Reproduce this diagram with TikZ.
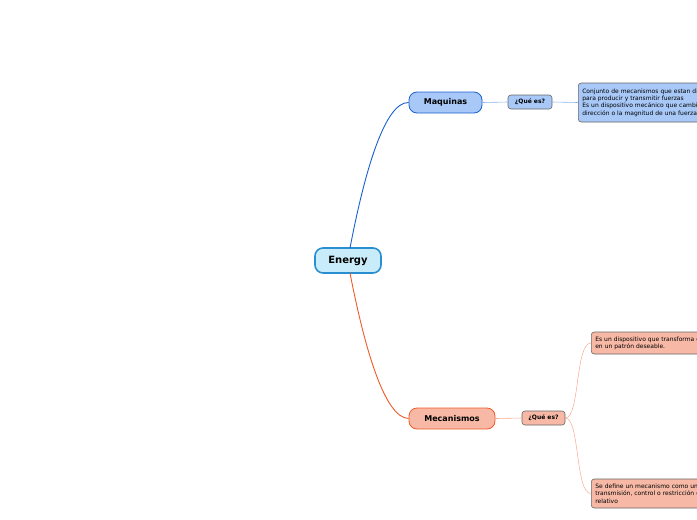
\documentclass[tikz,border=0pt]{standalone}
\usepackage{fontspec}
\setmainfont{DejaVu Sans}
\begin{document}
\begin{tikzpicture}[x=1pt,y=-1pt,
 base/.style={rounded corners=3pt,inner sep=0pt,align=left},
 root/.style={base,rounded corners=8pt,draw=rootb,fill=rootf,line width=1.6pt,minimum width=66pt,minimum height=25pt,font=\fontsize{10}{12}\selectfont\bfseries},
 main/.style={base,rounded corners=8pt,line width=0.8pt,minimum height=21pt,font=\fontsize{8}{10}\selectfont\bfseries},
 q/.style={base,draw=gray!80!black,line width=0.6pt,minimum height=14pt,font=\fontsize{6}{7}\selectfont\bfseries},
 desc/.style={base,draw=gray!80!black,line width=0.6pt,anchor=west,inner xsep=4pt,inner ysep=3pt,text width=150pt,font=\fontsize{6}{7.3}\selectfont}]
\definecolor{rootb}{HTML}{2A8FD0}\definecolor{rootf}{HTML}{C9ECFB}
\definecolor{blueb}{HTML}{1A5FD0}\definecolor{bluef}{HTML}{A8C8F8}
\definecolor{redb}{HTML}{F05A28}\definecolor{redf}{HTML}{F7B9A6}
\definecolor{lblue}{HTML}{8AB4F0}\definecolor{lred}{HTML}{F8A890}
\useasboundingbox (0,0) rectangle (697,520);
\clip (0,0) rectangle (697,520);
\node[root] (e) at (348,260.5) {Energy};
\node[main,draw=blueb,fill=bluef,minimum width=73pt] (m) at (445.5,102.5) {Maquinas};
\node[q,fill=bluef,minimum width=44pt] (q1) at (530,102) {¿Qué es?};
\node[desc,fill=bluef,minimum height=39pt] (d1) at (578,102.5) {Conjunto de mecanismos que estan dise\\para producir y transmitir fuerzas\\Es un dispositivo mecánico que cambia la\\dirección o la magnitud de una fuerza};
\node[main,draw=redb,fill=redf,minimum width=86pt] (c) at (452,418.5) {Mecanismos};
\node[q,fill=redf,minimum width=43pt] (q2) at (543.5,418) {¿Qué es?};
\node[desc,fill=redf,minimum height=22pt] (d2) at (591,343) {Es un dispositivo que transforma el movimiento\\en un patrón deseable.};
\node[desc,fill=redf,minimum height=29pt] (d3) at (591,493.5) {Se define un mecanismo como un sistema de\\transmisión, control o restricción del movimiento\\relativo};
\draw[blueb,line width=0.9pt] (350,248) .. controls (365,170) and (385,102) .. (m.west);
\draw[redb,line width=0.9pt] (350,273) .. controls (365,350) and (385,418) .. (c.west);
\draw[lblue,line width=0.6pt] (m.east) -- (q1.west) (q1.east) -- (d1.west);
\draw[lred,line width=0.6pt] (c.east) -- (q2.west);
\draw[lred,line width=0.5pt] (q2.east) .. controls (580,418) and (575,343) .. (d2.west);
\draw[lred,line width=0.5pt] (q2.east) .. controls (580,418) and (575,493.5) .. (d3.west);
\end{tikzpicture}
\end{document}
